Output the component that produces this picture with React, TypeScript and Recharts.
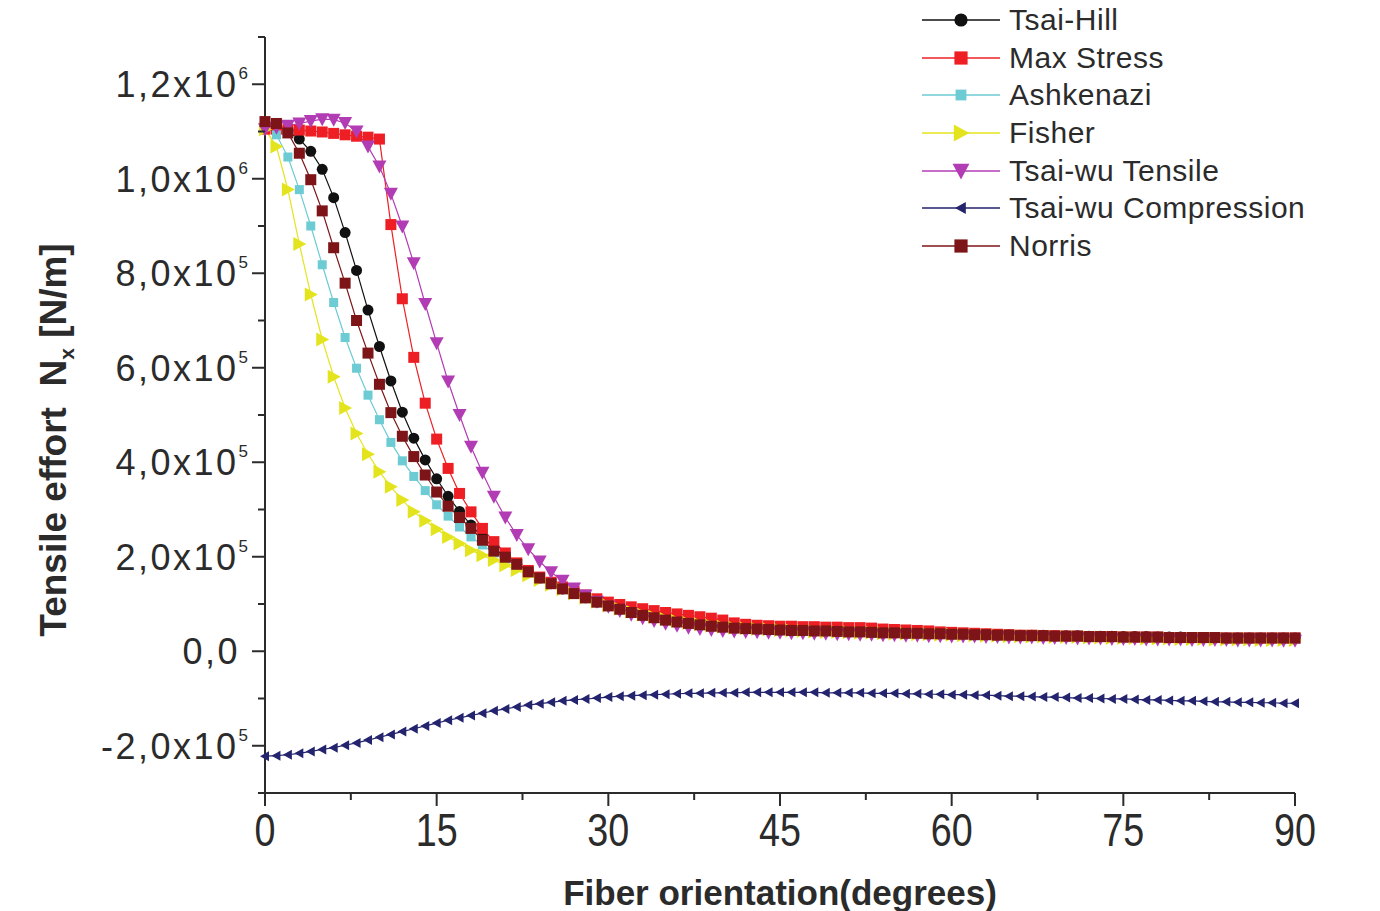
import React from 'react';
import { LineChart, Line, XAxis, YAxis } from 'recharts';

// fiber orientation in degrees
const degrees = [
  0, 1, 2, 3, 4, 5, 6, 7, 8, 9,
  10, 11, 12, 13, 14, 15, 16, 17, 18, 19,
  20, 21, 22, 23, 24, 25, 26, 27, 28, 29,
  30, 31, 32, 33, 34, 35, 36, 37, 38, 39,
  40, 41, 42, 43, 44, 45, 46, 47, 48, 49,
  50, 51, 52, 53, 54, 55, 56, 57, 58, 59,
  60, 61, 62, 63, 64, 65, 66, 67, 68, 69,
  70, 71, 72, 73, 74, 75, 76, 77, 78, 79,
  80, 81, 82, 83, 84, 85, 86, 87, 88, 89, 90,
];

// tensile effort, in units of 1e5 N/m
const tsaiHill = [
  11.12, 11.10, 11.00, 10.84, 10.58, 10.20, 9.60, 8.86, 8.06, 7.22,
  6.45, 5.72, 5.06, 4.51, 4.05, 3.65, 3.28, 2.96, 2.67, 2.42,
  2.19, 1.99, 1.84, 1.69, 1.55, 1.43, 1.32, 1.22, 1.13, 1.04,
  0.96, 0.89, 0.82, 0.76, 0.71, 0.66, 0.62, 0.59, 0.56, 0.53,
  0.51, 0.49, 0.48, 0.47, 0.46, 0.45, 0.44, 0.44, 0.43, 0.43,
  0.42, 0.41, 0.41, 0.40, 0.40, 0.39, 0.39, 0.38, 0.38, 0.37,
  0.37, 0.37, 0.36, 0.36, 0.35, 0.35, 0.34, 0.34, 0.34, 0.33,
  0.33, 0.33, 0.32, 0.32, 0.32, 0.31, 0.31, 0.31, 0.30, 0.30,
  0.30, 0.29, 0.29, 0.29, 0.28, 0.28, 0.28, 0.28, 0.28, 0.28, 0.28,
];

const maxStress = [
  11.05, 11.05, 11.04, 11.03, 11.01, 10.99, 10.96, 10.93, 10.90, 10.88,
  10.84, 9.03, 7.46, 6.22, 5.25, 4.49, 3.87, 3.34, 2.95, 2.60,
  2.32, 2.08, 1.87, 1.71, 1.57, 1.46, 1.36, 1.27, 1.19, 1.11,
  1.04, 0.99, 0.94, 0.90, 0.86, 0.82, 0.79, 0.76, 0.73, 0.70,
  0.66, 0.60, 0.57, 0.55, 0.54, 0.53, 0.53, 0.52, 0.52, 0.51,
  0.51, 0.50, 0.50, 0.49, 0.47, 0.46, 0.45, 0.44, 0.43, 0.41,
  0.40, 0.39, 0.38, 0.37, 0.36, 0.35, 0.34, 0.34, 0.33, 0.33,
  0.32, 0.32, 0.31, 0.31, 0.31, 0.30, 0.30, 0.30, 0.30, 0.29,
  0.29, 0.29, 0.29, 0.29, 0.28, 0.28, 0.28, 0.28, 0.28, 0.28, 0.28,
];

const ashkenazi = [
  11.10, 10.93, 10.46, 9.77, 9.00, 8.18, 7.38, 6.64, 5.99, 5.42,
  4.90, 4.42, 4.03, 3.70, 3.40, 3.10, 2.86, 2.63, 2.42, 2.25,
  2.08, 1.95, 1.82, 1.67, 1.54, 1.42, 1.31, 1.21, 1.12, 1.03,
  0.95, 0.88, 0.81, 0.75, 0.70, 0.65, 0.61, 0.58, 0.55, 0.52,
  0.50, 0.48, 0.47, 0.46, 0.45, 0.44, 0.43, 0.43, 0.42, 0.42,
  0.41, 0.40, 0.40, 0.39, 0.38, 0.38, 0.37, 0.37, 0.36, 0.36,
  0.35, 0.35, 0.34, 0.34, 0.33, 0.33, 0.32, 0.32, 0.32, 0.31,
  0.31, 0.31, 0.30, 0.30, 0.30, 0.29, 0.29, 0.29, 0.29, 0.28,
  0.28, 0.28, 0.28, 0.28, 0.27, 0.27, 0.27, 0.27, 0.27, 0.27, 0.27,
];

const fisher = [
  11.05, 10.68, 9.77, 8.62, 7.55, 6.60, 5.81, 5.15, 4.61, 4.17,
  3.80, 3.48, 3.20, 2.95, 2.76, 2.58, 2.42, 2.28, 2.14, 2.03,
  1.93, 1.82, 1.72, 1.61, 1.51, 1.41, 1.31, 1.22, 1.13, 1.05,
  0.97, 0.90, 0.84, 0.78, 0.73, 0.68, 0.64, 0.60, 0.57, 0.54,
  0.52, 0.50, 0.48, 0.47, 0.46, 0.45, 0.44, 0.43, 0.42, 0.41,
  0.41, 0.40, 0.39, 0.39, 0.38, 0.37, 0.37, 0.36, 0.36, 0.35,
  0.35, 0.34, 0.34, 0.33, 0.33, 0.32, 0.32, 0.31, 0.31, 0.30,
  0.30, 0.30, 0.29, 0.29, 0.28, 0.28, 0.28, 0.27, 0.27, 0.27,
  0.26, 0.26, 0.26, 0.25, 0.25, 0.25, 0.25, 0.24, 0.24, 0.24, 0.24,
];

const tsaiWuTensile = [
  11.05, 11.08, 11.12, 11.17, 11.22, 11.26, 11.25, 11.18, 11.00, 10.68,
  10.26, 9.68, 8.99, 8.21, 7.35, 6.52, 5.71, 5.00, 4.33, 3.78,
  3.27, 2.83, 2.46, 2.16, 1.90, 1.67, 1.49, 1.33, 1.18, 1.05,
  0.94, 0.85, 0.77, 0.70, 0.64, 0.58, 0.54, 0.50, 0.47, 0.45,
  0.43, 0.42, 0.41, 0.40, 0.39, 0.39, 0.38, 0.38, 0.37, 0.37,
  0.36, 0.36, 0.35, 0.35, 0.34, 0.34, 0.33, 0.33, 0.32, 0.32,
  0.31, 0.31, 0.31, 0.30, 0.30, 0.29, 0.29, 0.29, 0.28, 0.28,
  0.28, 0.27, 0.27, 0.27, 0.26, 0.26, 0.26, 0.25, 0.25, 0.25,
  0.25, 0.24, 0.24, 0.24, 0.24, 0.23, 0.23, 0.23, 0.23, 0.22, 0.22,
];

const tsaiWuCompression = [
  -2.22, -2.21, -2.19, -2.16, -2.12, -2.08, -2.04, -1.99, -1.94, -1.88,
  -1.82, -1.76, -1.70, -1.64, -1.58, -1.52, -1.46, -1.41, -1.36, -1.31,
  -1.26, -1.22, -1.18, -1.14, -1.11, -1.08, -1.05, -1.03, -1.01, -0.99,
  -0.97, -0.95, -0.94, -0.93, -0.92, -0.91, -0.90, -0.89, -0.89, -0.88,
  -0.88, -0.88, -0.87, -0.87, -0.87, -0.87, -0.87, -0.87, -0.87, -0.88,
  -0.88, -0.88, -0.88, -0.89, -0.89, -0.89, -0.90, -0.90, -0.91, -0.91,
  -0.92, -0.92, -0.93, -0.93, -0.94, -0.95, -0.95, -0.96, -0.97, -0.97,
  -0.98, -0.99, -0.99, -1.00, -1.01, -1.01, -1.02, -1.03, -1.03, -1.04,
  -1.05, -1.05, -1.06, -1.07, -1.07, -1.08, -1.08, -1.09, -1.09, -1.10, -1.10,
];

const norris = [
  11.21, 11.17, 10.97, 10.54, 9.98, 9.32, 8.54, 7.79, 7.00, 6.31,
  5.65, 5.05, 4.55, 4.12, 3.73, 3.37, 3.07, 2.83, 2.60, 2.35,
  2.12, 1.99, 1.84, 1.68, 1.55, 1.43, 1.32, 1.22, 1.13, 1.04,
  0.96, 0.89, 0.82, 0.76, 0.71, 0.66, 0.62, 0.59, 0.56, 0.53,
  0.51, 0.49, 0.48, 0.47, 0.46, 0.45, 0.44, 0.44, 0.43, 0.43,
  0.42, 0.41, 0.41, 0.40, 0.39, 0.39, 0.38, 0.38, 0.37, 0.37,
  0.36, 0.36, 0.35, 0.35, 0.34, 0.34, 0.33, 0.33, 0.33, 0.32,
  0.32, 0.32, 0.31, 0.31, 0.31, 0.30, 0.30, 0.30, 0.30, 0.29,
  0.29, 0.29, 0.29, 0.29, 0.28, 0.28, 0.28, 0.28, 0.28, 0.28, 0.28,
];

// axis ticks
const xTicks = [0, 7.5, 15, 22.5, 30, 37.5, 45, 52.5, 60, 67.5, 75, 82.5, 90];
const xTickLabels = ['0', '', '15', '', '30', '', '45', '', '60', '', '75', '', '90'];

const yTicks = [
  -300000, -200000, -100000, 0, 100000, 200000, 300000, 400000, 500000,
  600000, 700000, 800000, 900000, 1000000, 1100000, 1200000, 1300000,
];
const yTickMantissa = ['', '-2,0', '', '0,0', '', '2,0', '', '4,0', '', '6,0', '', '8,0', '', '1,0', '', '1,2', ''];
const yTickExponent = ['', '5', '', '', '', '5', '', '5', '', '5', '', '5', '', '6', '', '6', ''];

const FONT = "'Liberation Sans', Arial, sans-serif";
const INK = '#2b2b2b';

const series = [
  { key: 'tsaiHill', name: 'Tsai-Hill', color: '#111111', shape: 'circle', values: tsaiHill },
  { key: 'maxStress', name: 'Max Stress', color: '#ee1f24', shape: 'square', values: maxStress },
  { key: 'ashkenazi', name: 'Ashkenazi', color: '#6ccbd3', shape: 'smallSquare', values: ashkenazi },
  { key: 'fisher', name: 'Fisher', color: '#e4e41e', shape: 'triRight', values: fisher },
  { key: 'tsaiWuTensile', name: 'Tsai-wu Tensile', color: '#b23cb4', shape: 'triDown', values: tsaiWuTensile },
  { key: 'tsaiWuCompression', name: 'Tsai-wu Compression', color: '#23236e', shape: 'triLeft', values: tsaiWuCompression },
  { key: 'norris', name: 'Norris', color: '#7d1518', shape: 'square', values: norris },
];

const data = degrees.map((deg, i) => {
  const row: Record<string, number> = { deg };
  series.forEach(s => { row[s.key] = s.values[i] * 1e5; });
  return row;
});

function marker(shape: string, cx: number, cy: number, color: string, key?: string, big = false) {
  const k = big ? 1.2 : 1;
  switch (shape) {
    case 'circle':
      return <circle key={key} cx={cx} cy={cy} r={5.5 * k} fill={color} />;
    case 'square':
      return <rect key={key} x={cx - 5.5 * k} y={cy - 5.5 * k} width={11 * k} height={11 * k} fill={color} />;
    case 'smallSquare':
      return <rect key={key} x={cx - 4.5 * k} y={cy - 4.5 * k} width={9 * k} height={9 * k} fill={color} />;
    case 'triRight':
      return <polygon key={key} points={`${cx + 7 * k},${cy} ${cx - 6 * k},${cy - 7 * k} ${cx - 6 * k},${cy + 7 * k}`} fill={color} />;
    case 'triDown':
      return <polygon key={key} points={`${cx - 7 * k},${cy - 6 * k} ${cx + 7 * k},${cy - 6 * k} ${cx},${cy + 7 * k}`} fill={color} />;
    case 'triLeft':
      return <polygon key={key} points={`${cx - 5 * k},${cy} ${cx + 4 * k},${cy - 5 * k} ${cx + 4 * k},${cy + 5 * k}`} fill={color} />;
    default:
      return null;
  }
}

const XTick = (props: any) => {
  const { x, y, payload } = props;
  const i = xTicks.indexOf(payload.value);
  const label = xTickLabels[i];
  const major = label !== '';
  return (
    <g>
      <line x1={x} x2={x} y1={y} y2={y + (major ? 13 : 7)} stroke={INK} strokeWidth={2} />
      {major && (
        <text
          transform={`translate(${x},${y + 53}) scale(0.82,1)`}
          textAnchor="middle"
          fontFamily={FONT}
          fontSize={46}
          fill={INK}
        >
          {label}
        </text>
      )}
    </g>
  );
};

const YTick = (props: any) => {
  const { x, y, payload } = props;
  const i = yTicks.indexOf(payload.value);
  const mant = yTickMantissa[i];
  const exp = yTickExponent[i];
  const major = mant !== '';
  return (
    <g>
      <line x1={x - (major ? 13 : 7)} x2={x} y1={y} y2={y} stroke={INK} strokeWidth={2} />
      {major && (
        <text
          x={exp ? x - 17 : x - 25}
          y={y + 13}
          textAnchor="end"
          fontFamily={FONT}
          fontSize={36}
          letterSpacing={2.5}
          fill={INK}
        >
          {exp ? `${mant}x10` : mant}
          {exp && <tspan dy={-18} fontSize={17} letterSpacing={0}>{exp}</tspan>}
        </text>
      )}
    </g>
  );
};

const ChartLegend = () => (
  <div style={{ position: 'absolute', left: 920, top: 1, fontFamily: FONT, fontSize: 30, color: INK }}>
    {series.map(s => (
      <div key={s.key} style={{ display: 'flex', alignItems: 'center', height: 37.7 }}>
        <svg width={82} height={30} style={{ display: 'block' }}>
          <line x1={2} x2={80} y1={15} y2={15} stroke={s.color} strokeWidth={1.5} />
          {marker(s.shape, 41, 15, s.color, undefined, true)}
        </svg>
        <span style={{ marginLeft: 7, whiteSpace: 'nowrap', lineHeight: 1, letterSpacing: 0.5 }}>{s.name}</span>
      </div>
    ))}
  </div>
);

export default function App() {
  return (
    <div style={{ position: 'absolute', left: 0, top: 0, width: 1380, height: 911, background: '#fff', overflow: 'hidden' }}>
      <LineChart width={1380} height={911} data={data} margin={{ top: 37, right: 85, bottom: 0, left: 0 }}>
        <XAxis
          dataKey="deg"
          type="number"
          domain={[0, 90]}
          ticks={xTicks}
          interval={0}
          height={118}
          tick={<XTick />}
          tickLine={false}
          tickSize={0}
          tickMargin={0}
          axisLine={{ stroke: INK, strokeWidth: 2 }}
        />
        <YAxis
          type="number"
          domain={[-300000, 1300000]}
          ticks={yTicks}
          interval={0}
          width={265}
          tick={<YTick />}
          tickLine={false}
          tickSize={0}
          tickMargin={0}
          axisLine={{ stroke: INK, strokeWidth: 2 }}
          allowDataOverflow
        />
        {series.map(s => (
          <Line
            key={s.key}
            type="linear"
            dataKey={s.key}
            name={s.name}
            stroke={s.color}
            strokeWidth={1.2}
            dot={(p: any) => marker(s.shape, p.cx, p.cy, s.color, `${s.key}-${p.index}`)}
            activeDot={false}
            isAnimationActive={false}
          />
        ))}
      </LineChart>
      <ChartLegend />
      <div
        style={{
          position: 'absolute', left: 56, top: 440, transform: 'translate(-50%, -50%) rotate(-90deg)',
          fontFamily: FONT, fontWeight: 'bold', fontSize: 37, color: INK, whiteSpace: 'nowrap', lineHeight: 1,
        }}
      >
        Tensile effort&nbsp; N<sub style={{ fontSize: 21 }}>x</sub> [N/m]
      </div>
      <div
        style={{
          position: 'absolute', left: 780, top: 875, transform: 'translateX(-50%)',
          fontFamily: FONT, fontWeight: 'bold', fontSize: 35, color: INK, whiteSpace: 'nowrap', lineHeight: 1,
        }}
      >
        Fiber orientation(degrees)
      </div>
    </div>
  );
}
